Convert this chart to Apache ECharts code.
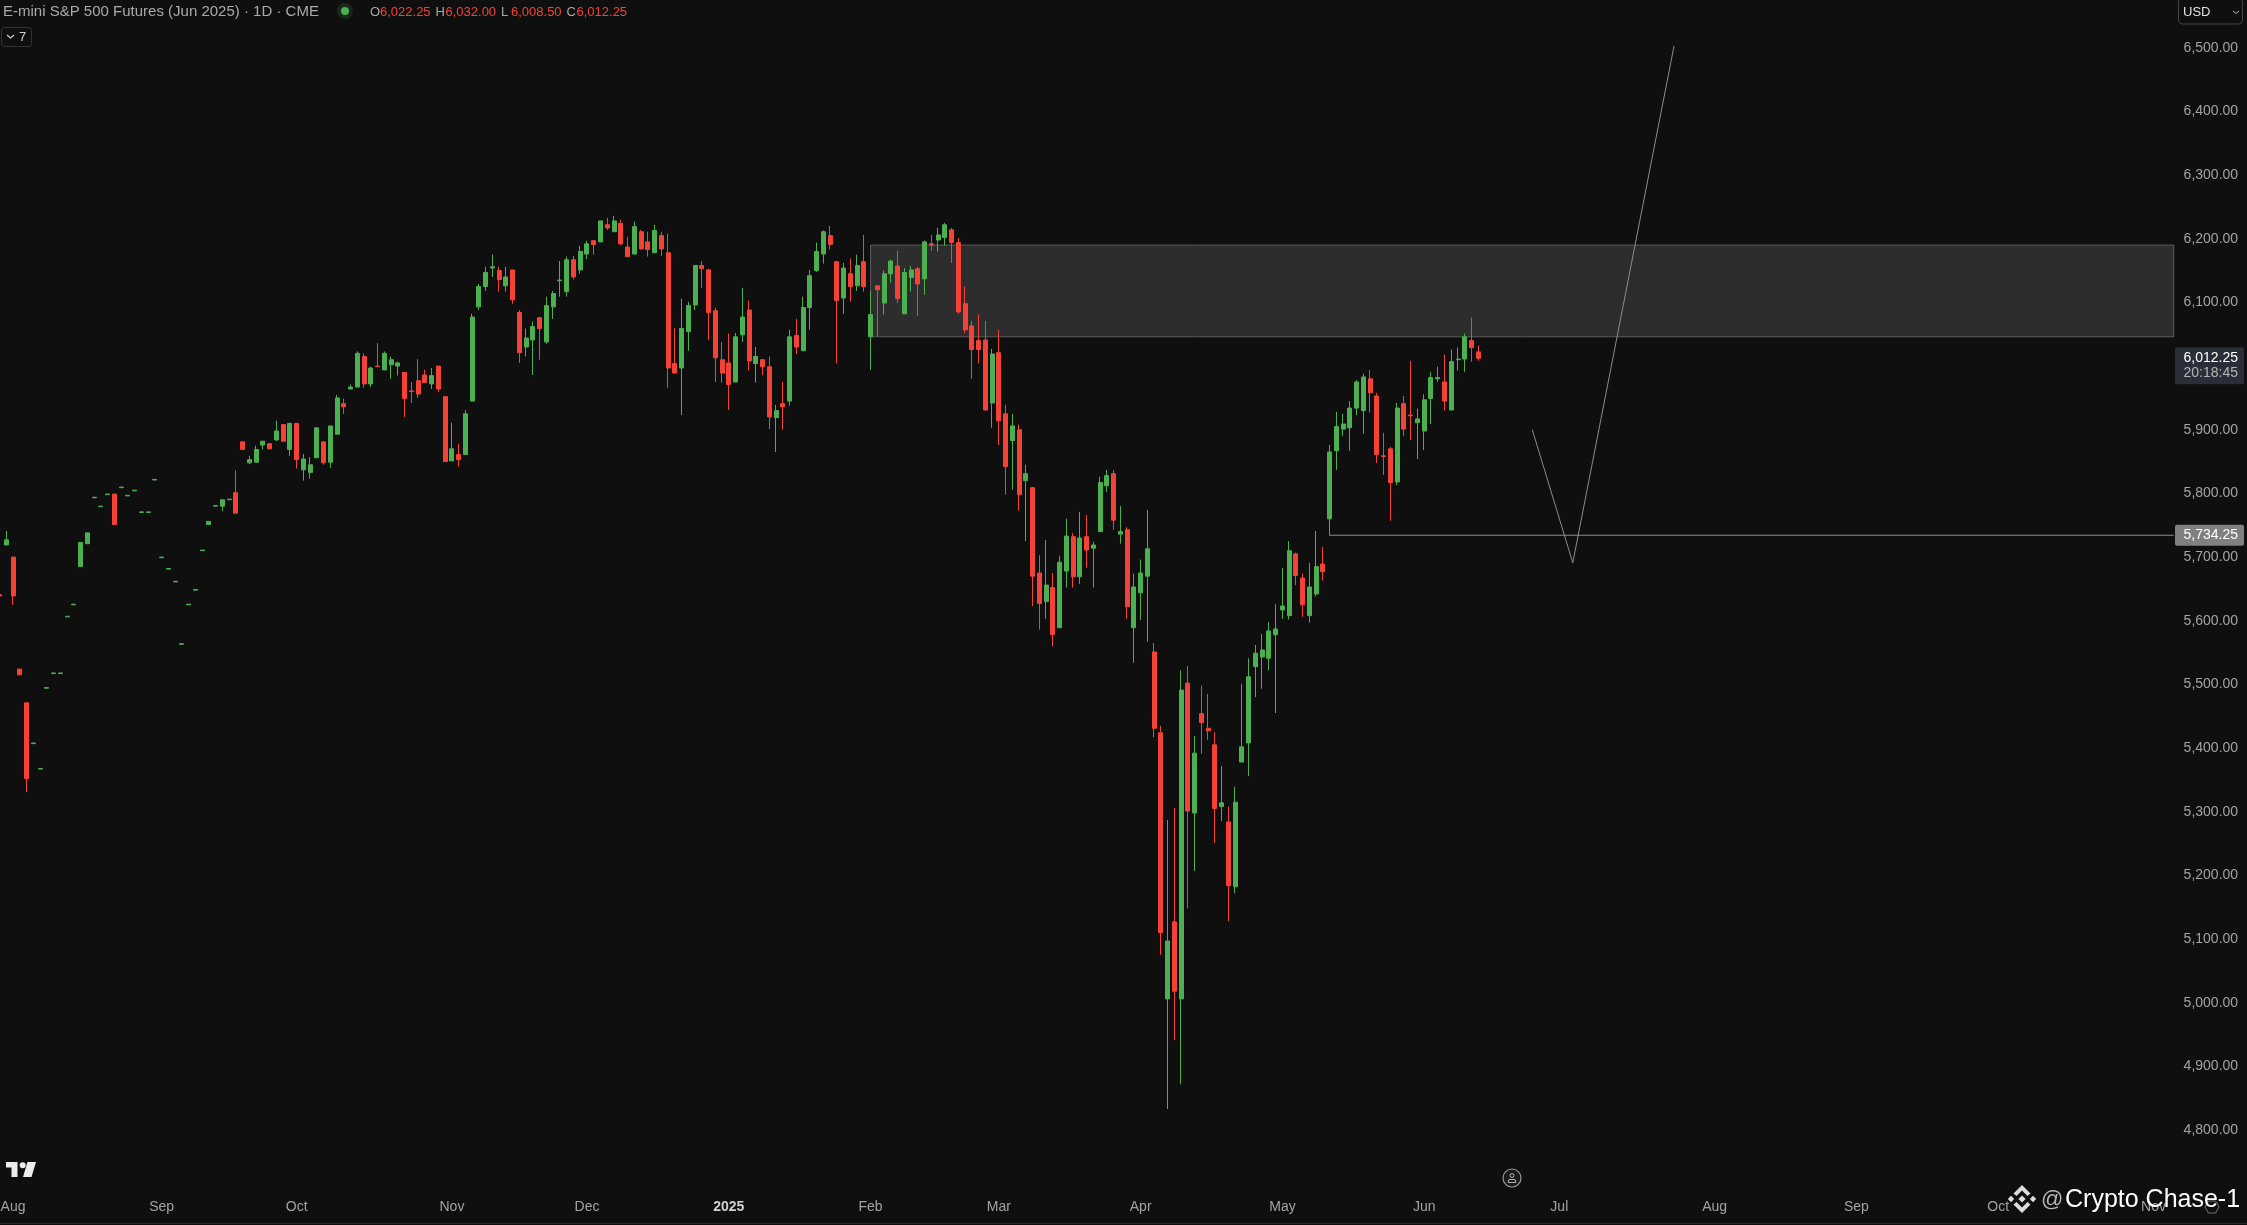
<!DOCTYPE html>
<html><head><meta charset="utf-8">
<style>html,body{margin:0;padding:0;background:#0f0f0f}#c{width:2247px;height:1225px}</style>
<script src="https://cdn.jsdelivr.net/npm/echarts@6/dist/echarts.min.js"></script>
</head><body><div id="c"></div>
<script>
// [open, close, low, high]
const bars2024 = [
[5641,5639,5639,5641],[5719,5727,5719,5741],[5700,5639,5625,5700],[5524,5515,5515,5524],[5471,5352,5331,5471],
[5407,5408,5407,5408],[5367,5368,5367,5368],[5494,5495,5494,5495],[5517,5518,5517,5518],[5517,5518,5517,5518],
[5606,5607,5606,5607],[5625,5626,5625,5626],[5685,5723,5685,5723],[5721,5738,5721,5738],[5793,5794,5793,5794],
[5779,5780,5779,5780],[5798,5799,5798,5799],[5799,5751,5751,5799],[5809,5810,5809,5810],[5796,5797,5796,5797],
[5804,5805,5804,5805],[5770,5771,5770,5771],[5770,5771,5770,5771],[5821,5822,5821,5822],[5699,5700,5699,5700],
[5681,5682,5681,5682],[5661,5662,5661,5662],[5563,5564,5563,5564],[5625,5626,5625,5626],[5648,5649,5648,5649],
[5710,5711,5710,5711],[5751,5756,5751,5756],[5780,5781,5780,5781],[5780,5790,5772,5790],[5790,5791,5790,5791],
[5801,5769,5769,5836],[5881,5869,5869,5881],[5848,5853,5846,5859],[5849,5869,5849,5875],[5876,5882,5869,5882],
[5878,5870,5870,5878],[5884,5898,5882,5914],[5908,5882,5882,5908],[5869,5910,5859,5911],[5910,5853,5839,5910],
[5837,5854,5820,5862],[5833,5845,5823,5857],[5856,5903,5856,5903],[5881,5848,5845,5881],[5849,5906,5840,5906],
[5893,5950,5893,5955],[5941,5936,5925,5949],[5964,5967,5964,5971],[5967,6020,5967,6023],[6015,5972,5966,6020],
[5972,5997,5967,5999],[6000,5999,5999,6036],[5994,6020,5994,6023],[6002,6010,5980,6015],[6000,6005,5985,6007],
[5990,5949,5920,5990],[5961,5960,5942,5975],[5977,5956,5950,6011],[5986,5974,5974,5994],[5972,5985,5964,5997],
[6000,5964,5959,6000],[5952,5850,5850,5952],[5851,5870,5851,5911],[5861,5853,5842,5878],[5861,5925,5861,5931],
[5945,6077,5945,6082],[6093,6125,6088,6129],[6125,6147,6118,6156],[6154,6156,6140,6175],[6150,6136,6117,6156],
[6126,6140,6117,6156],[6151,6104,6098,6151],[6084,6021,6005,6088],[6030,6044,6015,6059],[6041,6062,5986,6070],
[6076,6059,6010,6076],[6038,6095,6035,6109],[6093,6114,6074,6118],[6134,6135,6109,6165],[6117,6167,6109,6172],
[6167,6140,6136,6173],[6151,6180,6145,6189],[6176,6192,6168,6197],[6197,6191,6175,6197],[6195,6228,6195,6228],
[6222,6217,6214,6233],[6211,6228,6211,6236],[6224,6192,6190,6230],[6187,6172,6172,6203],[6176,6219,6175,6227],
[6211,6184,6183,6214],[6195,6183,6172,6211],[6178,6213,6178,6222],[6205,6184,6173,6211],[6178,5997,5966,6208],
[6004,5989,5989,6060],[5997,6059,5923,6106],[6054,6095,6024,6101],[6096,6158,6088,6158],[6158,6153,6123,6165],
[6151,6084,6041,6153],[6087,6013,5975,6092],[6010,5989,5974,6038]
];
const bars2025 = [
[6005,5971,5931,6051],[5975,6046,5975,6052],[6049,6077,6038,6123],[6088,6008,5993,6103],[6004,6015,5974,6030],
[6010,5999,5986,6010],[5999,5920,5901,6015],[5919,5930,5865,5939],[5941,5936,5900,5975],[5945,6046,5938,6057],
[6048,6030,6019,6074],[6024,6092,6024,6109],[6092,6142,6057,6151],[6150,6180,6148,6194],[6176,6211,6161,6213],
[6205,6191,6183,6220],[6164,6103,6004,6164],[6107,6154,6082,6162],[6145,6125,6101,6169],[6126,6158,6118,6175],
[6164,6125,6117,6206],[6046,6081,5994,6118],[6126,6120,6046,6126],[6099,6145,6081,6150],[6145,6165,6131,6167],
[6157,6106,6099,6181],[6082,6147,6082,6154],[6139,6151,6117,6157],[6153,6129,6079,6156],[6137,6195,6112,6197],
[6192,6190,6181,6206],[6198,6206,6180,6217],[6202,6222,6189,6225],[6214,6194,6162,6217],[6194,6085,6082,6201],
[6098,6057,6052,6125],[6063,6026,5980,6071],[6040,6026,6004,6081],[6041,5931,5930,6071],[5942,6019,5903,6027],
[6021,5914,5876,6057],[5925,5842,5798,5939],[5883,5906,5806,5925],[5900,5798,5773,5908],[5820,5831,5725,5845],
[5809,5670,5623,5810],[5675,5627,5586,5703],[5630,5656,5603,5727],[5652,5578,5560,5675],[5589,5692,5589,5702],
[5678,5733,5652,5760],[5732,5669,5652,5738],[5669,5730,5658,5771],[5732,5711,5683,5766],[5714,5719,5652,5724],
[5740,5817,5740,5826],[5812,5828,5802,5837],[5831,5758,5743,5837],[5736,5740,5721,5780],[5743,5622,5603,5747],
[5589,5653,5534,5674],[5644,5675,5601,5696],[5670,5713,5567,5774],[5551,5431,5417,5565],[5424,5110,5075,5435],
[5006,5097,4833,5287],[5127,5018,4941,5306],[5006,5491,4872,5522],[5502,5301,5148,5529],[5298,5392,5207,5419],
[5454,5440,5391,5498],[5431,5427,5413,5485],[5405,5305,5251,5425],[5308,5314,5285,5372],[5284,5184,5128,5308],
[5182,5315,5172,5339],[5378,5402,5378,5501],[5408,5512,5356,5541],[5528,5549,5480,5562],[5543,5554,5493,5579],
[5541,5584,5522,5598],[5578,5587,5455,5626],[5617,5623,5603,5683],[5608,5710,5602,5725],[5705,5671,5656,5707],
[5667,5625,5606,5674],[5608,5653,5597,5691],[5642,5685,5638,5741],[5689,5677,5663,5716],[5760,5865,5734,5876],
[5867,5905,5837,5928],[5901,5909,5890,5925],[5903,5934,5867,5945],[5934,5975,5923,5978],[5930,5983,5894,5988],
[5980,5958,5927,5994],[5953,5861,5848,5958],[5859,5858,5829,5895],[5870,5817,5757,5873],[5818,5934,5813,5942],
[5941,5901,5890,5953],[5923,5922,5884,6008],[5911,5917,5854,5933],[5898,5947,5868,5956],[5949,5982,5909,5991],
[5980,5982,5975,5999],[5975,5945,5930,6018],[5931,6007,5931,6026],[6010,6011,5993,6029],[6011,6046,5991,6051],
[6040,6029,6007,6076],[6022.25,6012.25,6008.5,6032]
];
const monthLabels = ['Aug','Sep','Oct','Nov','Dec','2025','Feb','Mar','Apr','May','Jun','Jul','Aug','Sep','Oct','Nov'];
const monthBars   = [2,24,44,67,87,108,129,148,169,190,211,231,254,275,296,319];
const totalSlots = 323;
const zoneBars = [129,322];
const zonePrices = [6190,6046];
const forecastPath = [[227,5900],[233,5691],[248,6503]];
const levelBars = [197,322];
const levelPrice = 5734.25;
const lastPrice = 6012.25;
const countdown = '20:18:45';
const headerOHLC = [['O','6,022.25'],['H','6,032.00'],['L','6,008.50'],['C','6,012.25']];

const UP='#4caf50', DOWN='#f44336', AXIS='#a3a3a3', FONT='"Liberation Sans", Arial, sans-serif';
const categories = new Array(totalSlots).fill('');
monthBars.forEach((b,i)=>{categories[b]=monthLabels[i]});
const bars = bars2024.concat(bars2025);

const chart = echarts.init(document.getElementById('c'),null,{renderer:'canvas'});
const band = 6.752, gridLeft = -3.8;
chart.setOption({
  backgroundColor:'#0f0f0f', animation:false,
  grid:{left:gridLeft, top:0, width:band*totalSlots, height:1193.7, outerBoundsMode:'none'},
  xAxis:{type:'category', data:categories, axisLine:{show:false}, axisTick:{show:false}, splitLine:{show:false},
    axisLabel:{interval:0, hideOverlap:false, color:AXIS, fontFamily:FONT, fontSize:14, margin:6,
      formatter:v=>v==='2025'?'{b|2025}':v, rich:{b:{fontWeight:'bold',color:'#d0d0d0',fontFamily:FONT,fontSize:14}}}},
  yAxis:{type:'value', position:'right', min:4700, max:6575, interval:100, scale:true,
    axisLine:{show:false}, axisTick:{show:false}, splitLine:{show:false},
    axisLabel:{color:AXIS, fontFamily:FONT, fontSize:14, margin:61, align:'right',
      formatter:v=>v===4700?'':v.toLocaleString('en-US',{minimumFractionDigits:2})}},
  series:[
   {type:'candlestick', data:bars, barWidth:4.5, z:3,
    itemStyle:{color:UP,color0:DOWN,borderColor:UP,borderColor0:DOWN,borderWidth:1},
    markArea:{silent:true, animation:false,
      itemStyle:{color:'rgba(255,255,255,0.125)',borderColor:'#5c5c5c',borderWidth:1},
      data:[[{xAxis:zoneBars[0],yAxis:zonePrices[0]},{xAxis:zoneBars[1],yAxis:zonePrices[1]}]]}},
   {type:'line', data:forecastPath, showSymbol:false, silent:true, z:4, lineStyle:{color:'#8c8c8c',width:1}},
   {type:'line', data:levelBars.map(b=>[b,levelPrice]), showSymbol:false, silent:true, z:4, lineStyle:{color:'#8c8c8c',width:1}}
  ],
  tooltip:{show:false}
});

const py = p => chart.convertToPixel({yAxisIndex:0},p);
const yLast = py(lastPrice), yLevel = py(levelPrice);
const txt = (x,y,t,o={}) => ({type:'text',z:100,x,y,silent:true,style:Object.assign({text:t,fill:AXIS,font:'14px '+FONT,textAlign:'left',textVerticalAlign:'middle'},o)});
const rect = (x,y,w,h,o={},r=0) => ({type:'rect',z:99,silent:true,shape:{x,y,width:w,height:h,r},style:o});
const poly = (pts,o={}) => ({type:'polygon',z:99,silent:true,shape:{points:pts},style:o});
const pl = (pts,o={}) => ({type:'polyline',z:99,silent:true,shape:{points:pts},style:Object.assign({fill:null},o)});
const logoC='#dcdcdc', cx=2022, cy=1199;
const d = (x,y,r)=>poly([[x,y-r],[x+r,y],[x,y+r],[x-r,y]],{fill:logoC});

let ohlcX = 370; const ohlcEls=[];
headerOHLC.forEach(([k,v])=>{
  ohlcEls.push(txt(ohlcX,12,k,{font:'13px '+FONT,fill:'#a8a8a8'}));
  ohlcEls.push(txt(ohlcX+10,12,v,{font:'13px '+FONT,fill:DOWN}));
  ohlcX += 65.5;
});

chart.setOption({graphic:{elements:[
  txt(3,12,'E-mini S&P 500 Futures (Jun 2025) · 1D · CME',{font:'15px '+FONT,fill:'#aaaaaa'}),
  {type:'circle',z:99,silent:true,shape:{cx:345,cy:11,r:8},style:{fill:'rgba(76,175,80,0.16)'}},
  {type:'circle',z:99,silent:true,shape:{cx:345,cy:11,r:4},style:{fill:UP}},
  ...ohlcEls,
  rect(1.5,27.5,30,19,{fill:'#0f0f0f',stroke:'#333',lineWidth:1},3),
  pl([[7,35],[10.5,38],[14,35]],{stroke:'#cfcfcf',lineWidth:1.2}),
  txt(19,37,'7',{font:'13px '+FONT,fill:'#cfcfcf'}),
  rect(2178.5,-2,64,26,{fill:'#0f0f0f',stroke:'#444',lineWidth:1},4),
  txt(2183,12,'USD',{font:'13px '+FONT,fill:'#e0e0e0'}),
  pl([[2233,11],[2236,13.5],[2239,11]],{stroke:'#bbb',lineWidth:1}),
  rect(2175,yLast-11,69,37,{fill:'#2a2e39'},2),
  txt(2238,yLast,lastPrice.toLocaleString('en-US',{minimumFractionDigits:2}),{textAlign:'right',fill:'#ffffff'}),
  txt(2238,yLast+15,countdown,{textAlign:'right',fill:'#b4b4b4'}),
  rect(2175,yLevel-10.5,69,21,{fill:'#808080'},2),
  txt(2238,yLevel,levelPrice.toLocaleString('en-US',{minimumFractionDigits:2}),{textAlign:'right',fill:'#ffffff'}),
  // TradingView mark
  poly([[6,1162],[17.5,1162],[17.5,1177],[11.5,1177],[11.5,1167.5],[6,1167.5]],{fill:'#ececec'}),
  {type:'circle',z:99,silent:true,shape:{cx:22.7,cy:1165.3,r:3},style:{fill:'#ececec'}},
  poly([[27.5,1162],[36,1162],[31.5,1177],[23,1177]],{fill:'#ececec'}),
  // small round marker at the bottom
  {type:'circle',z:99,silent:true,shape:{cx:1512,cy:1178,r:9},style:{fill:'#1a1a1a',stroke:'#9a9a9a',lineWidth:1.2}},
  {type:'circle',z:99,silent:true,shape:{cx:1512,cy:1175.5,r:2},style:{fill:'none',stroke:'#b0b0b0',lineWidth:1}},
  pl([[1508,1182.5],[1509,1179.5],[1515,1179.5],[1516,1182.5],[1508,1182.5]],{stroke:'#b0b0b0',lineWidth:1}),
  // hexagon under the watermark
  pl([[2205,1207],[2208.5,1201],[2215.5,1201],[2219,1207],[2215.5,1213],[2208.5,1213],[2205,1207]],{stroke:'#777',lineWidth:1}),
  // watermark
  d(cx,cy,3.6), d(cx-11,cy,3.2), d(cx+11,cy,3.2),
  poly([[cx,cy-14],[cx+8.5,cy-5.5],[cx+5.5,cy-3],[cx,cy-8.5],[cx-5.5,cy-3],[cx-8.5,cy-5.5]],{fill:logoC}),
  poly([[cx,cy+14],[cx+8.5,cy+5.5],[cx+5.5,cy+3],[cx,cy+8.5],[cx-5.5,cy+3],[cx-8.5,cy+5.5]],{fill:logoC}),
  txt(2041,1200,'@',{font:'22px '+FONT,fill:'#b5b5b5'}),
  txt(2065,1200,'Crypto Chase-1',{font:'25px '+FONT,fill:'#ffffff'}),
  rect(0,1223,2247,1,{fill:'#2a2a2a'})
]}});
</script></body></html>
